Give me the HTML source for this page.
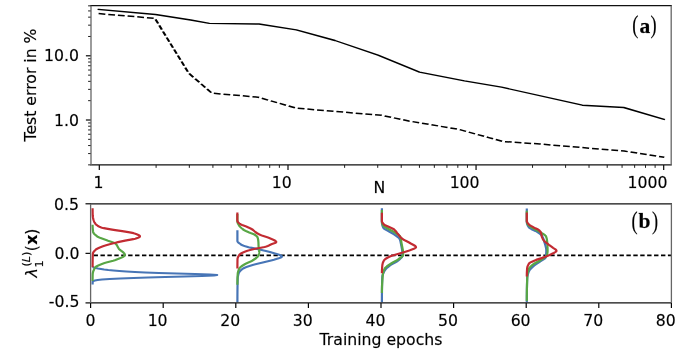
<!DOCTYPE html><html><head><meta charset="utf-8"><style>html,body{margin:0;padding:0;background:#fff;}svg{display:block;} text{stroke:#000;stroke-width:0.35px;stroke-opacity:0.45;}</style></head><body><svg width="698" height="352" viewBox="0 0 698 352">
<rect width="100%" height="100%" fill="#fff"/>
<g font-family="DejaVu Sans, Liberation Sans, sans-serif" fill="#000">
<g transform="scale(1,0.67)" fill="none" stroke="#000" stroke-linejoin="round">
<polyline points="98.60,14.18 155.50,21.64 190.70,29.85 209.40,34.93 259.00,35.82 296.30,44.48 335.00,60.45 378.00,82.24 419.50,107.61 464.40,120.60 501.50,130.15 582.30,157.01 623.70,160.45 664.00,178.21" stroke-width="2.05" stroke-linecap="square"/>
<polyline points="98.60,20.30 154.90,27.31 188.70,109.25 211.80,138.96 258.00,145.07 296.40,161.49 381.70,172.09 408.70,180.60 458.60,192.99 488.70,205.37 503.00,211.19 540.00,214.93 624.20,225.52 664.30,234.78" stroke-width="2.25" stroke-dasharray="6.8 2.94"/>
</g>
<line x1="99.30" y1="164.95" x2="99.30" y2="170.05" stroke="#000" stroke-width="1.17"/>
<line x1="156.10" y1="164.95" x2="156.10" y2="167.85" stroke="#000" stroke-width="0.88"/>
<line x1="189.33" y1="164.95" x2="189.33" y2="167.85" stroke="#000" stroke-width="0.88"/>
<line x1="212.91" y1="164.95" x2="212.91" y2="167.85" stroke="#000" stroke-width="0.88"/>
<line x1="231.20" y1="164.95" x2="231.20" y2="167.85" stroke="#000" stroke-width="0.88"/>
<line x1="246.14" y1="164.95" x2="246.14" y2="167.85" stroke="#000" stroke-width="0.88"/>
<line x1="258.77" y1="164.95" x2="258.77" y2="167.85" stroke="#000" stroke-width="0.88"/>
<line x1="269.71" y1="164.95" x2="269.71" y2="167.85" stroke="#000" stroke-width="0.88"/>
<line x1="279.37" y1="164.95" x2="279.37" y2="167.85" stroke="#000" stroke-width="0.88"/>
<line x1="288.00" y1="164.95" x2="288.00" y2="170.05" stroke="#000" stroke-width="1.17"/>
<line x1="344.61" y1="164.95" x2="344.61" y2="167.85" stroke="#000" stroke-width="0.88"/>
<line x1="377.72" y1="164.95" x2="377.72" y2="167.85" stroke="#000" stroke-width="0.88"/>
<line x1="401.22" y1="164.95" x2="401.22" y2="167.85" stroke="#000" stroke-width="0.88"/>
<line x1="419.44" y1="164.95" x2="419.44" y2="167.85" stroke="#000" stroke-width="0.88"/>
<line x1="434.33" y1="164.95" x2="434.33" y2="167.85" stroke="#000" stroke-width="0.88"/>
<line x1="446.92" y1="164.95" x2="446.92" y2="167.85" stroke="#000" stroke-width="0.88"/>
<line x1="457.83" y1="164.95" x2="457.83" y2="167.85" stroke="#000" stroke-width="0.88"/>
<line x1="467.45" y1="164.95" x2="467.45" y2="167.85" stroke="#000" stroke-width="0.88"/>
<line x1="476.05" y1="164.95" x2="476.05" y2="170.05" stroke="#000" stroke-width="1.17"/>
<line x1="532.54" y1="164.95" x2="532.54" y2="167.85" stroke="#000" stroke-width="0.88"/>
<line x1="565.58" y1="164.95" x2="565.58" y2="167.85" stroke="#000" stroke-width="0.88"/>
<line x1="589.03" y1="164.95" x2="589.03" y2="167.85" stroke="#000" stroke-width="0.88"/>
<line x1="607.21" y1="164.95" x2="607.21" y2="167.85" stroke="#000" stroke-width="0.88"/>
<line x1="622.07" y1="164.95" x2="622.07" y2="167.85" stroke="#000" stroke-width="0.88"/>
<line x1="634.63" y1="164.95" x2="634.63" y2="167.85" stroke="#000" stroke-width="0.88"/>
<line x1="645.51" y1="164.95" x2="645.51" y2="167.85" stroke="#000" stroke-width="0.88"/>
<line x1="655.11" y1="164.95" x2="655.11" y2="167.85" stroke="#000" stroke-width="0.88"/>
<line x1="663.70" y1="164.95" x2="663.70" y2="170.05" stroke="#000" stroke-width="1.17"/>
<line x1="88.10" y1="164.87" x2="91.00" y2="164.87" stroke="#000" stroke-width="0.88"/>
<line x1="88.10" y1="153.57" x2="91.00" y2="153.57" stroke="#000" stroke-width="0.88"/>
<line x1="88.10" y1="145.55" x2="91.00" y2="145.55" stroke="#000" stroke-width="0.88"/>
<line x1="88.10" y1="139.33" x2="91.00" y2="139.33" stroke="#000" stroke-width="0.88"/>
<line x1="88.10" y1="134.24" x2="91.00" y2="134.24" stroke="#000" stroke-width="0.88"/>
<line x1="88.10" y1="129.94" x2="91.00" y2="129.94" stroke="#000" stroke-width="0.88"/>
<line x1="88.10" y1="126.22" x2="91.00" y2="126.22" stroke="#000" stroke-width="0.88"/>
<line x1="88.10" y1="122.94" x2="91.00" y2="122.94" stroke="#000" stroke-width="0.88"/>
<line x1="85.90" y1="120.00" x2="91.00" y2="120.00" stroke="#000" stroke-width="1.17"/>
<line x1="88.10" y1="100.67" x2="91.00" y2="100.67" stroke="#000" stroke-width="0.88"/>
<line x1="88.10" y1="89.37" x2="91.00" y2="89.37" stroke="#000" stroke-width="0.88"/>
<line x1="88.10" y1="81.35" x2="91.00" y2="81.35" stroke="#000" stroke-width="0.88"/>
<line x1="88.10" y1="75.13" x2="91.00" y2="75.13" stroke="#000" stroke-width="0.88"/>
<line x1="88.10" y1="70.04" x2="91.00" y2="70.04" stroke="#000" stroke-width="0.88"/>
<line x1="88.10" y1="65.74" x2="91.00" y2="65.74" stroke="#000" stroke-width="0.88"/>
<line x1="88.10" y1="62.02" x2="91.00" y2="62.02" stroke="#000" stroke-width="0.88"/>
<line x1="88.10" y1="58.74" x2="91.00" y2="58.74" stroke="#000" stroke-width="0.88"/>
<line x1="85.90" y1="55.80" x2="91.00" y2="55.80" stroke="#000" stroke-width="1.17"/>
<line x1="88.10" y1="36.47" x2="91.00" y2="36.47" stroke="#000" stroke-width="0.88"/>
<line x1="88.10" y1="25.17" x2="91.00" y2="25.17" stroke="#000" stroke-width="0.88"/>
<line x1="88.10" y1="17.15" x2="91.00" y2="17.15" stroke="#000" stroke-width="0.88"/>
<line x1="88.10" y1="10.93" x2="91.00" y2="10.93" stroke="#000" stroke-width="0.88"/>
<line x1="88.10" y1="5.84" x2="91.00" y2="5.84" stroke="#000" stroke-width="0.88"/>
<line x1="90.42" y1="5.70" x2="671.79" y2="5.70" stroke="#111" stroke-width="1.17"/>
<line x1="90.42" y1="164.95" x2="671.79" y2="164.95" stroke="#111" stroke-width="1.17"/>
<line x1="91.00" y1="5.70" x2="91.00" y2="164.95" stroke="#666" stroke-width="1.3"/>
<line x1="671.20" y1="5.70" x2="671.20" y2="164.95" stroke="#666" stroke-width="1.3"/>
<text x="103.60" y="188.00" text-anchor="end" font-size="15.7" >1</text>
<text x="291.80" y="188.00" text-anchor="end" font-size="15.7" >10</text>
<text x="479.60" y="188.00" text-anchor="end" font-size="15.7" >100</text>
<text x="667.40" y="188.00" text-anchor="end" font-size="15.7" >1000</text>
<text x="78.90" y="61.40" text-anchor="end" font-size="15.7" >10.0</text>
<text x="78.90" y="125.60" text-anchor="end" font-size="15.7" >1.0</text>
<text x="379.40" y="192.50" text-anchor="middle" font-size="15.7" >N</text>
<text transform="translate(35.7,85.0) rotate(-90)" text-anchor="middle" font-size="15.7">Test error in %</text>
<g font-family="Liberation Serif, serif"><text transform="translate(632.3,33.2) scale(0.72,1)" font-size="25.5">(</text><text x="639.4" y="32.6" font-size="21.5" font-weight="bold">a</text><text transform="translate(650.6,33.2) scale(0.72,1)" font-size="25.5">)</text></g>
<line x1="93.55" y1="255.4" x2="671.40" y2="255.4" stroke="#000" stroke-width="1.8" stroke-dasharray="4.4 2.52"/>
<g fill="none" stroke-width="2.2" stroke-linejoin="round" stroke-linecap="butt">
<polyline points="92.60,267.00 93.71,267.50 95.60,268.00 98.07,268.50 100.95,269.00 104.15,269.50 108.31,270.00 113.46,270.50 119.43,271.00 126.31,271.50 134.96,272.00 145.00,272.50 158.89,273.00 176.89,273.50 195.16,274.00 209.86,274.50 217.17,275.00 213.93,275.50 201.77,276.00 184.31,276.50 165.15,277.00 147.90,277.50 133.54,278.00 120.24,278.50 109.69,279.00 102.00,279.50 97.67,280.00 95.00,280.50 93.43,281.00 92.70,281.50 92.67,282.00 92.64,282.50 92.62,283.00 92.61,283.50 92.60,284.00 92.60,284.50 92.60,284.60" stroke="#4775b6"/>
<polyline points="92.60,224.70 92.60,225.20 92.61,225.70 92.62,226.20 92.64,226.70 92.66,227.20 92.69,227.70 92.72,228.20 92.76,228.70 92.80,229.20 92.85,229.70 92.90,230.20 92.96,230.70 93.02,231.20 93.09,231.70 93.19,232.20 93.41,232.70 93.72,233.20 94.12,233.70 94.58,234.20 95.11,234.70 95.69,235.20 96.30,235.70 96.93,236.20 97.74,236.70 98.77,237.20 99.96,237.70 101.27,238.20 102.65,238.70 104.05,239.20 105.44,239.70 106.75,240.20 108.06,240.70 109.51,241.20 111.01,241.70 112.46,242.20 113.78,242.70 114.86,243.20 115.60,243.70 116.10,244.20 116.51,244.70 116.87,245.20 117.17,245.70 117.44,246.20 117.69,246.70 117.95,247.20 118.21,247.70 118.51,248.20 118.85,248.70 119.26,249.20 119.77,249.70 120.36,250.20 121.00,250.70 121.66,251.20 122.33,251.70 122.98,252.20 123.57,252.70 124.08,253.20 124.49,253.70 124.77,254.20 124.90,254.70 124.81,255.20 124.45,255.70 123.87,256.20 123.08,256.70 122.13,257.20 121.05,257.70 119.87,258.20 118.63,258.70 117.36,259.20 116.10,259.70 114.79,260.20 113.14,260.70 111.25,261.20 109.24,261.70 107.25,262.20 105.42,262.70 103.86,263.20 102.57,263.70 101.29,264.20 100.05,264.70 98.87,265.20 97.79,265.70 96.83,266.20 96.04,266.70 95.43,267.20 95.04,267.70 94.73,268.20 94.45,268.70 94.18,269.20 93.93,269.70 93.71,270.20 93.50,270.70 93.32,271.20 93.15,271.70 93.02,272.20 92.90,272.70 92.81,273.20 92.75,273.70 92.71,274.20 92.69,274.70 92.68,275.20 92.67,275.70 92.65,276.20 92.64,276.70 92.63,277.20 92.63,277.70 92.62,278.20 92.61,278.70 92.61,279.20 92.60,279.70 92.60,280.20 92.60,280.70 92.60,281.00" stroke="#58a645"/>
<polyline points="92.60,208.20 92.60,208.70 92.60,209.20 92.61,209.70 92.61,210.20 92.61,210.70 92.62,211.20 92.63,211.70 92.64,212.20 92.64,212.70 92.65,213.20 92.67,213.70 92.68,214.20 92.69,214.70 92.71,215.20 92.74,215.70 92.79,216.20 92.85,216.70 92.92,217.20 93.01,217.70 93.11,218.20 93.22,218.70 93.33,219.20 93.45,219.70 93.59,220.20 93.76,220.70 93.96,221.20 94.18,221.70 94.44,222.20 94.72,222.70 95.04,223.20 95.39,223.70 95.78,224.20 96.27,224.70 96.88,225.20 97.62,225.70 98.50,226.20 99.51,226.70 100.65,227.20 101.98,227.70 103.93,228.20 106.42,228.70 109.22,229.20 112.13,229.70 115.22,230.20 118.74,230.70 122.23,231.20 125.28,231.70 128.27,232.20 131.12,232.70 133.57,233.20 135.37,233.70 136.64,234.20 137.83,234.70 138.83,235.20 139.57,235.70 139.96,236.20 139.87,236.70 139.18,237.20 138.05,237.70 136.67,238.20 135.19,238.70 133.18,239.20 130.61,239.70 127.81,240.20 125.09,240.70 122.67,241.20 120.26,241.70 117.89,242.20 115.62,242.70 113.49,243.20 111.54,243.70 109.66,244.20 107.84,244.70 106.11,245.20 104.49,245.70 102.99,246.20 101.65,246.70 100.43,247.20 99.25,247.70 98.15,248.20 97.17,248.70 96.34,249.20 95.70,249.70 95.17,250.20 94.66,250.70 94.20,251.20 93.78,251.70 93.43,252.20 93.15,252.70 92.97,253.20 92.89,253.70 92.85,254.20 92.82,254.70 92.79,255.20 92.77,255.70 92.75,256.20 92.73,256.70 92.72,257.20 92.71,257.70 92.70,258.20 92.69,258.70 92.68,259.20 92.67,259.70 92.66,260.20 92.65,260.70 92.65,261.20 92.64,261.70 92.63,262.20 92.63,262.70 92.62,263.20 92.62,263.70 92.61,264.20 92.61,264.70 92.61,265.20 92.60,265.70 92.60,266.20 92.60,266.70 92.60,267.20" stroke="#c22b32"/>
<polyline points="237.40,230.20 237.40,230.70 237.40,231.20 237.40,231.70 237.40,232.20 237.40,232.70 237.40,233.20 237.40,233.70 237.40,234.20 237.40,234.70 237.40,235.20 237.40,235.70 237.40,236.20 237.40,236.70 237.40,237.20 237.40,237.70 237.40,238.20 237.40,238.70 237.40,239.20 237.40,239.70 237.40,240.20 237.40,240.70 237.42,241.20 237.61,241.70 237.98,242.20 238.51,242.70 239.14,243.20 239.86,243.70 240.63,244.20 241.44,244.70 242.48,245.20 243.78,245.70 245.27,246.20 246.91,246.70 248.64,247.20 250.59,247.70 252.93,248.20 255.48,248.70 258.04,249.20 260.40,249.70 262.61,250.20 264.81,250.70 266.94,251.20 268.96,251.70 270.80,252.20 272.45,252.70 274.14,253.20 275.87,253.70 277.55,254.20 279.08,254.70 280.37,255.20 281.35,255.70 281.90,256.20 281.94,256.70 281.33,257.20 280.20,257.70 278.74,258.20 277.11,258.70 275.50,259.20 273.91,259.70 272.07,260.20 270.06,260.70 267.96,261.20 265.85,261.70 263.80,262.20 261.74,262.70 259.60,263.20 257.47,263.70 255.41,264.20 253.52,264.70 251.85,265.20 250.24,265.70 248.68,266.20 247.21,266.70 245.86,267.20 244.69,267.70 243.72,268.20 242.96,268.70 242.26,269.20 241.60,269.70 240.99,270.20 240.44,270.70 239.95,271.20 239.53,271.70 239.18,272.20 238.92,272.70 238.73,273.20 238.58,273.70 238.43,274.20 238.29,274.70 238.17,275.20 238.06,275.70 237.96,276.20 237.87,276.70 237.81,277.20 237.75,277.70 237.72,278.20 237.70,278.70 237.68,279.20 237.67,279.70 237.66,280.20 237.64,280.70 237.63,281.20 237.62,281.70 237.61,282.20 237.60,282.70 237.58,283.20 237.57,283.70 237.56,284.20 237.55,284.70 237.54,285.20 237.54,285.70 237.53,286.20 237.52,286.70 237.51,287.20 237.50,287.70 237.49,288.20 237.49,288.70 237.48,289.20 237.47,289.70 237.47,290.20 237.46,290.70 237.46,291.20 237.45,291.70 237.45,292.20 237.44,292.70 237.44,293.20 237.43,293.70 237.43,294.20 237.43,294.70 237.42,295.20 237.42,295.70 237.42,296.20 237.41,296.70 237.41,297.20 237.41,297.70 237.41,298.20 237.41,298.70 237.40,299.20 237.40,299.70 237.40,300.20 237.40,300.70 237.40,301.20 237.40,301.70 237.40,302.20 237.40,302.30" stroke="#4775b6"/>
<polyline points="237.40,214.00 237.40,214.50 237.40,215.00 237.40,215.50 237.40,216.00 237.40,216.50 237.40,217.00 237.40,217.50 237.40,218.00 237.40,218.50 237.40,219.00 237.40,219.50 237.40,220.00 237.40,220.50 237.40,221.00 237.40,221.50 237.43,222.00 237.54,222.50 237.72,223.00 237.96,223.50 238.22,224.00 238.51,224.50 238.80,225.00 239.11,225.50 239.47,226.00 239.89,226.50 240.34,227.00 240.85,227.50 241.39,228.00 241.98,228.50 242.60,229.00 243.26,229.50 244.00,230.00 244.90,230.50 245.90,231.00 246.98,231.50 248.10,232.00 249.23,232.50 250.52,233.00 251.92,233.50 253.27,234.00 254.37,234.50 255.14,235.00 255.83,235.50 256.45,236.00 256.96,236.50 257.36,237.00 257.60,237.50 257.75,238.00 257.88,238.50 257.99,239.00 258.09,239.50 258.17,240.00 258.24,240.50 258.30,241.00 258.35,241.50 258.39,242.00 258.43,242.50 258.45,243.00 258.47,243.50 258.49,244.00 258.51,244.50 258.52,245.00 258.54,245.50 258.56,246.00 258.59,246.50 258.64,247.00 258.70,247.50 258.79,248.00 258.89,248.50 258.99,249.00 259.09,249.50 259.18,250.00 259.24,250.50 259.29,251.00 259.30,251.50 259.27,252.00 259.21,252.50 259.11,253.00 258.99,253.50 258.84,254.00 258.67,254.50 258.48,255.00 258.27,255.50 258.05,256.00 257.75,256.50 257.32,257.00 256.80,257.50 256.20,258.00 255.52,258.50 254.80,259.00 254.05,259.50 253.27,260.00 252.50,260.50 251.64,261.00 250.64,261.50 249.54,262.00 248.40,262.50 247.26,263.00 246.17,263.50 245.19,264.00 244.34,264.50 243.55,265.00 242.75,265.50 241.99,266.00 241.28,266.50 240.63,267.00 240.08,267.50 239.65,268.00 239.35,268.50 239.11,269.00 238.88,269.50 238.68,270.00 238.49,270.50 238.31,271.00 238.16,271.50 238.02,272.00 237.91,272.50 237.82,273.00 237.75,273.50 237.71,274.00 237.68,274.50 237.65,275.00 237.63,275.50 237.60,276.00 237.58,276.50 237.56,277.00 237.54,277.50 237.52,278.00 237.50,278.50 237.49,279.00 237.47,279.50 237.46,280.00 237.45,280.50 237.44,281.00 237.43,281.50 237.42,282.00 237.41,282.50 237.41,283.00 237.40,283.50 237.40,284.00 237.40,284.50 237.40,284.70" stroke="#58a645"/>
<polyline points="237.40,212.50 237.38,213.00 237.37,213.50 237.35,214.00 237.34,214.50 237.33,215.00 237.32,215.50 237.32,216.00 237.31,216.50 237.31,217.00 237.31,217.50 237.30,218.00 237.30,218.50 237.30,219.00 237.30,219.50 237.30,220.00 237.30,220.50 237.38,221.00 237.61,221.50 237.97,222.00 238.42,222.50 238.94,223.00 239.52,223.50 240.13,224.00 241.01,224.50 242.19,225.00 243.54,225.50 244.92,226.00 246.22,226.50 247.35,227.00 248.44,227.50 249.52,228.00 250.55,228.50 251.50,229.00 252.35,229.50 253.06,230.00 253.67,230.50 254.22,231.00 254.77,231.50 255.36,232.00 256.05,232.50 256.82,233.00 257.66,233.50 258.57,234.00 259.55,234.50 260.62,235.00 261.91,235.50 263.39,236.00 264.96,236.50 266.54,237.00 268.01,237.50 269.28,238.00 270.39,238.50 271.54,239.00 272.69,239.50 273.77,240.00 274.73,240.50 275.51,241.00 276.05,241.50 276.29,242.00 275.98,242.50 274.91,243.00 273.45,243.50 271.99,244.00 270.85,244.50 269.85,245.00 268.85,245.50 267.74,246.00 266.40,246.50 264.58,247.00 262.10,247.50 259.31,248.00 256.58,248.50 254.28,249.00 252.19,249.50 250.18,250.00 248.33,250.50 246.70,251.00 245.35,251.50 244.14,252.00 243.00,252.50 241.95,253.00 241.02,253.50 240.24,254.00 239.65,254.50 239.26,255.00 238.93,255.50 238.62,256.00 238.34,256.50 238.09,257.00 237.88,257.50 237.71,258.00 237.59,258.50 237.52,259.00 237.50,259.50 237.48,260.00 237.47,260.50 237.46,261.00 237.45,261.50 237.45,262.00 237.44,262.50 237.43,263.00 237.43,263.50 237.42,264.00 237.42,264.50 237.41,265.00 237.41,265.50 237.41,266.00 237.40,266.50 237.40,267.00 237.40,267.50 237.40,268.00 237.40,268.40" stroke="#c22b32"/>
<polyline points="381.90,208.30 381.90,208.80 381.90,209.30 381.90,209.80 381.90,210.30 381.90,210.80 381.90,211.30 381.90,211.80 381.90,212.30 381.90,212.80 381.90,213.30 381.90,213.80 381.90,214.30 381.90,214.80 381.90,215.30 381.90,215.80 381.90,216.30 381.90,216.80 381.90,217.30 381.90,217.80 381.90,218.30 381.90,218.80 381.90,219.30 381.90,219.80 381.90,220.30 381.90,220.80 381.90,221.30 381.90,221.80 381.90,222.30 381.93,222.80 381.98,223.30 382.06,223.80 382.15,224.30 382.27,224.80 382.40,225.30 382.56,225.80 382.73,226.30 382.92,226.80 383.12,227.30 383.35,227.80 383.76,228.30 384.40,228.80 385.19,229.30 386.08,229.80 387.01,230.30 387.90,230.80 388.72,231.30 389.57,231.80 390.46,232.30 391.37,232.80 392.28,233.30 393.16,233.80 394.00,234.30 394.78,234.80 395.47,235.30 396.17,235.80 396.86,236.30 397.53,236.80 398.15,237.30 398.71,237.80 399.18,238.30 399.54,238.80 399.78,239.30 399.98,239.80 400.15,240.30 400.29,240.80 400.42,241.30 400.54,241.80 400.64,242.30 400.74,242.80 400.84,243.30 400.94,243.80 401.04,244.30 401.14,244.80 401.24,245.30 401.34,245.80 401.44,246.30 401.54,246.80 401.64,247.30 401.74,247.80 401.83,248.30 401.92,248.80 402.01,249.30 402.10,249.80 402.17,250.30 402.25,250.80 402.32,251.30 402.38,251.80 402.43,252.30 402.48,252.80 402.52,253.30 402.56,253.80 402.58,254.30 402.59,254.80 402.60,255.30 402.54,255.80 402.36,256.30 402.07,256.80 401.70,257.30 401.25,257.80 400.74,258.30 400.18,258.80 399.59,259.30 398.97,259.80 398.35,260.30 397.74,260.80 397.11,261.30 396.36,261.80 395.50,262.30 394.57,262.80 393.60,263.30 392.63,263.80 391.69,264.30 390.83,264.80 390.07,265.30 389.42,265.80 388.80,266.30 388.20,266.80 387.61,267.30 387.06,267.80 386.54,268.30 386.05,268.80 385.61,269.30 385.22,269.80 384.88,270.30 384.59,270.80 384.31,271.30 384.05,271.80 383.79,272.30 383.54,272.80 383.30,273.30 383.09,273.80 382.89,274.30 382.72,274.80 382.57,275.30 382.45,275.80 382.36,276.30 382.31,276.80 382.29,277.30 382.27,277.80 382.25,278.30 382.24,278.80 382.22,279.30 382.20,279.80 382.19,280.30 382.17,280.80 382.16,281.30 382.15,281.80 382.13,282.30 382.12,282.80 382.11,283.30 382.09,283.80 382.08,284.30 382.07,284.80 382.06,285.30 382.05,285.80 382.04,286.30 382.03,286.80 382.02,287.30 382.01,287.80 382.00,288.30 382.00,288.80 381.99,289.30 381.98,289.80 381.97,290.30 381.97,290.80 381.96,291.30 381.96,291.80 381.95,292.30 381.95,292.80 381.94,293.30 381.94,293.80 381.93,294.30 381.93,294.80 381.92,295.30 381.92,295.80 381.92,296.30 381.91,296.80 381.91,297.30 381.91,297.80 381.91,298.30 381.91,298.80 381.90,299.30 381.90,299.80 381.90,300.30 381.90,300.80 381.90,301.30 381.90,301.80 381.90,302.30" stroke="#4775b6"/>
<polyline points="381.90,210.00 381.90,210.50 381.90,211.00 381.90,211.50 381.90,212.00 381.90,212.50 381.90,213.00 381.90,213.50 381.90,214.00 381.90,214.50 381.90,215.00 381.90,215.50 381.90,216.00 381.90,216.50 381.90,217.00 381.90,217.50 381.90,218.00 381.90,218.50 381.90,219.00 381.90,219.50 381.90,220.00 381.90,220.50 381.90,221.00 381.92,221.50 381.96,222.00 382.04,222.50 382.14,223.00 382.26,223.50 382.40,224.00 382.56,224.50 382.74,225.00 383.08,225.50 383.62,226.00 384.31,226.50 385.11,227.00 385.98,227.50 386.87,228.00 387.74,228.50 388.56,229.00 389.39,229.50 390.29,230.00 391.22,230.50 392.16,231.00 393.11,231.50 394.03,232.00 394.90,232.50 395.71,233.00 396.44,233.50 397.17,234.00 397.90,234.50 398.61,235.00 399.25,235.50 399.78,236.00 400.16,236.50 400.37,237.00 400.52,237.50 400.66,238.00 400.77,238.50 400.87,239.00 400.96,239.50 401.03,240.00 401.11,240.50 401.18,241.00 401.25,241.50 401.32,242.00 401.40,242.50 401.49,243.00 401.58,243.50 401.67,244.00 401.77,244.50 401.87,245.00 401.97,245.50 402.07,246.00 402.17,246.50 402.26,247.00 402.36,247.50 402.46,248.00 402.55,248.50 402.64,249.00 402.72,249.50 402.80,250.00 402.88,250.50 402.95,251.00 403.01,251.50 403.06,252.00 403.11,252.50 403.15,253.00 403.17,253.50 403.19,254.00 403.20,254.50 403.14,255.00 402.91,255.50 402.54,256.00 402.06,256.50 401.48,257.00 400.84,257.50 400.17,258.00 399.49,258.50 398.83,259.00 398.16,259.50 397.38,260.00 396.52,260.50 395.61,261.00 394.67,261.50 393.72,262.00 392.80,262.50 391.94,263.00 391.15,263.50 390.41,264.00 389.67,264.50 388.91,265.00 388.17,265.50 387.45,266.00 386.78,266.50 386.16,267.00 385.62,267.50 385.16,268.00 384.81,268.50 384.56,269.00 384.33,269.50 384.11,270.00 383.91,270.50 383.73,271.00 383.56,271.50 383.41,272.00 383.27,272.50 383.14,273.00 383.04,273.50 382.95,274.00 382.87,274.50 382.81,275.00 382.76,275.50 382.71,276.00 382.67,276.50 382.62,277.00 382.58,277.50 382.54,278.00 382.50,278.50 382.46,279.00 382.42,279.50 382.38,280.00 382.35,280.50 382.31,281.00 382.28,281.50 382.25,282.00 382.22,282.50 382.19,283.00 382.16,283.50 382.14,284.00 382.11,284.50 382.09,285.00 382.06,285.50 382.04,286.00 382.02,286.50 382.01,287.00 381.99,287.50 381.97,288.00 381.96,288.50 381.95,289.00 381.94,289.50 381.93,290.00 381.92,290.50 381.91,291.00 381.91,291.50 381.90,292.00 381.90,292.50 381.90,293.00" stroke="#58a645"/>
<polyline points="381.90,212.70 381.90,213.20 381.90,213.70 381.90,214.20 381.90,214.70 381.90,215.20 381.90,215.70 381.90,216.20 381.90,216.70 381.90,217.20 381.90,217.70 381.90,218.20 381.90,218.70 381.90,219.20 381.90,219.70 381.90,220.20 381.90,220.70 381.92,221.20 382.04,221.70 382.24,222.20 382.53,222.70 382.88,223.20 383.27,223.70 383.71,224.20 384.30,224.70 385.24,225.20 386.37,225.70 387.54,226.20 388.60,226.70 389.68,227.20 390.80,227.70 391.90,228.20 392.90,228.70 393.73,229.20 394.36,229.70 394.89,230.20 395.36,230.70 395.78,231.20 396.16,231.70 396.54,232.20 396.92,232.70 397.33,233.20 397.76,233.70 398.17,234.20 398.57,234.70 398.96,235.20 399.35,235.70 399.76,236.20 400.18,236.70 400.63,237.20 401.12,237.70 401.65,238.20 402.25,238.70 402.97,239.20 403.80,239.70 404.71,240.20 405.68,240.70 406.68,241.20 407.67,241.70 408.63,242.20 409.54,242.70 410.36,243.20 411.22,243.70 412.16,244.20 413.10,244.70 413.99,245.20 414.79,245.70 415.42,246.20 415.85,246.70 416.00,247.20 415.72,247.70 414.96,248.20 413.87,248.70 412.58,249.20 411.23,249.70 409.95,250.20 408.58,250.70 407.04,251.20 405.40,251.70 403.69,252.20 401.98,252.70 400.32,253.20 398.68,253.70 396.92,254.20 395.15,254.70 393.42,255.20 391.84,255.70 390.48,256.20 389.39,256.70 388.40,257.20 387.46,257.70 386.59,258.20 385.80,258.70 385.12,259.20 384.56,259.70 384.13,260.20 383.83,260.70 383.56,261.20 383.32,261.70 383.11,262.20 382.92,262.70 382.75,263.20 382.62,263.70 382.51,264.20 382.42,264.70 382.37,265.20 382.31,265.70 382.26,266.20 382.22,266.70 382.17,267.20 382.13,267.70 382.09,268.20 382.06,268.70 382.03,269.20 382.00,269.70 381.97,270.20 381.95,270.70 381.93,271.20 381.92,271.70 381.91,272.20 381.90,272.70 381.90,273.20" stroke="#c22b32"/>
<polyline points="526.80,208.40 526.80,208.90 526.80,209.40 526.80,209.90 526.80,210.40 526.80,210.90 526.80,211.40 526.80,211.90 526.80,212.40 526.80,212.90 526.80,213.40 526.80,213.90 526.80,214.40 526.80,214.90 526.80,215.40 526.80,215.90 526.80,216.40 526.80,216.90 526.80,217.40 526.80,217.90 526.80,218.40 526.80,218.90 526.80,219.40 526.80,219.90 526.80,220.40 526.80,220.90 526.80,221.40 526.80,221.90 526.82,222.40 526.88,222.90 526.98,223.40 527.12,223.90 527.30,224.40 527.51,224.90 527.75,225.40 528.02,225.90 528.30,226.40 528.61,226.90 528.95,227.40 529.51,227.90 530.27,228.40 531.19,228.90 532.22,229.40 533.30,229.90 534.38,230.40 535.41,230.90 536.32,231.40 537.10,231.90 537.86,232.40 538.61,232.90 539.35,233.40 540.05,233.90 540.68,234.40 541.24,234.90 541.69,235.40 542.02,235.90 542.31,236.40 542.58,236.90 542.82,237.40 543.03,237.90 543.23,238.40 543.42,238.90 543.59,239.40 543.75,239.90 543.90,240.40 544.05,240.90 544.20,241.40 544.35,241.90 544.50,242.40 544.66,242.90 544.81,243.40 544.96,243.90 545.11,244.40 545.26,244.90 545.41,245.40 545.54,245.90 545.67,246.40 545.79,246.90 545.91,247.40 546.01,247.90 546.09,248.40 546.17,248.90 546.23,249.40 546.27,249.90 546.29,250.40 546.30,250.90 546.29,251.40 546.28,251.90 546.26,252.40 546.23,252.90 546.20,253.40 546.16,253.90 546.11,254.40 546.05,254.90 545.99,255.40 545.92,255.90 545.84,256.40 545.75,256.90 545.64,257.40 545.36,257.90 544.88,258.40 544.27,258.90 543.54,259.40 542.75,259.90 541.92,260.40 541.10,260.90 540.33,261.40 539.62,261.90 538.89,262.40 538.13,262.90 537.34,263.40 536.56,263.90 535.78,264.40 535.04,264.90 534.35,265.40 533.73,265.90 533.17,266.40 532.62,266.90 532.08,267.40 531.55,267.90 531.05,268.40 530.58,268.90 530.15,269.40 529.76,269.90 529.42,270.40 529.14,270.90 528.92,271.40 528.71,271.90 528.52,272.40 528.33,272.90 528.15,273.40 527.99,273.90 527.83,274.40 527.69,274.90 527.57,275.40 527.46,275.90 527.37,276.40 527.29,276.90 527.24,277.40 527.20,277.90 527.19,278.40 527.17,278.90 527.15,279.40 527.13,279.90 527.12,280.40 527.10,280.90 527.09,281.40 527.07,281.90 527.06,282.40 527.04,282.90 527.03,283.40 527.02,283.90 527.00,284.40 526.99,284.90 526.98,285.40 526.97,285.90 526.96,286.40 526.95,286.90 526.94,287.40 526.93,287.90 526.92,288.40 526.91,288.90 526.90,289.40 526.89,289.90 526.88,290.40 526.88,290.90 526.87,291.40 526.86,291.90 526.86,292.40 526.85,292.90 526.85,293.40 526.84,293.90 526.84,294.40 526.83,294.90 526.83,295.40 526.82,295.90 526.82,296.40 526.82,296.90 526.81,297.40 526.81,297.90 526.81,298.40 526.81,298.90 526.80,299.40 526.80,299.90 526.80,300.40 526.80,300.90 526.80,301.40 526.80,301.90 526.80,302.30" stroke="#4775b6"/>
<polyline points="526.80,210.70 526.80,211.20 526.80,211.70 526.80,212.20 526.80,212.70 526.80,213.20 526.80,213.70 526.80,214.20 526.80,214.70 526.80,215.20 526.80,215.70 526.80,216.20 526.80,216.70 526.80,217.20 526.80,217.70 526.80,218.20 526.80,218.70 526.80,219.20 526.80,219.70 526.80,220.20 526.80,220.70 526.80,221.20 526.85,221.70 526.95,222.20 527.08,222.70 527.25,223.20 527.44,223.70 527.66,224.20 527.95,224.70 528.43,225.20 529.07,225.70 529.83,226.20 530.66,226.70 531.53,227.20 532.41,227.70 533.24,228.20 534.05,228.70 534.91,229.20 535.81,229.70 536.73,230.20 537.67,230.70 538.59,231.20 539.49,231.70 540.35,232.20 541.15,232.70 541.92,233.20 542.74,233.70 543.54,234.20 544.31,234.70 544.98,235.20 545.52,235.70 545.88,236.20 546.10,236.70 546.30,237.20 546.47,237.70 546.62,238.20 546.75,238.70 546.85,239.20 546.94,239.70 547.00,240.20 547.05,240.70 547.10,241.20 547.15,241.70 547.19,242.20 547.24,242.70 547.28,243.20 547.32,243.70 547.35,244.20 547.39,244.70 547.42,245.20 547.45,245.70 547.48,246.20 547.50,246.70 547.52,247.20 547.54,247.70 547.56,248.20 547.57,248.70 547.58,249.20 547.59,249.70 547.60,250.20 547.60,250.70 547.59,251.20 547.57,251.70 547.52,252.20 547.46,252.70 547.38,253.20 547.29,253.70 547.18,254.20 547.06,254.70 546.93,255.20 546.72,255.70 546.34,256.20 545.80,256.70 545.15,257.20 544.40,257.70 543.60,258.20 542.78,258.70 541.97,259.20 541.20,259.70 540.42,260.20 539.55,260.70 538.64,261.20 537.70,261.70 536.76,262.20 535.85,262.70 534.98,263.20 534.19,263.70 533.50,264.20 532.87,264.70 532.24,265.20 531.63,265.70 531.05,266.20 530.51,266.70 530.02,267.20 529.60,267.70 529.26,268.20 529.00,268.70 528.80,269.20 528.61,269.70 528.43,270.20 528.26,270.70 528.10,271.20 527.96,271.70 527.83,272.20 527.72,272.70 527.62,273.20 527.54,273.70 527.47,274.20 527.43,274.70 527.39,275.20 527.37,275.70 527.35,276.20 527.32,276.70 527.30,277.20 527.28,277.70 527.25,278.20 527.23,278.70 527.21,279.20 527.19,279.70 527.17,280.20 527.15,280.70 527.13,281.20 527.12,281.70 527.10,282.20 527.08,282.70 527.07,283.20 527.05,283.70 527.03,284.20 527.02,284.70 527.01,285.20 526.99,285.70 526.98,286.20 526.97,286.70 526.95,287.20 526.94,287.70 526.93,288.20 526.92,288.70 526.91,289.20 526.90,289.70 526.89,290.20 526.88,290.70 526.88,291.20 526.87,291.70 526.86,292.20 526.85,292.70 526.85,293.20 526.84,293.70 526.84,294.20 526.83,294.70 526.83,295.20 526.82,295.70 526.82,296.20 526.81,296.70 526.81,297.20 526.81,297.70 526.81,298.20 526.80,298.70 526.80,299.20 526.80,299.70 526.80,300.20 526.80,300.70 526.80,301.00" stroke="#58a645"/>
<polyline points="526.80,212.40 526.80,212.90 526.80,213.40 526.80,213.90 526.80,214.40 526.80,214.90 526.80,215.40 526.80,215.90 526.80,216.40 526.80,216.90 526.80,217.40 526.80,217.90 526.80,218.40 526.80,218.90 526.80,219.40 526.80,219.90 526.80,220.40 526.80,220.90 526.86,221.40 527.04,221.90 527.30,222.40 527.64,222.90 528.03,223.40 528.45,223.90 528.89,224.40 529.46,224.90 530.19,225.40 531.02,225.90 531.93,226.40 532.85,226.90 533.78,227.40 534.85,227.90 536.00,228.40 537.06,228.90 537.90,229.40 538.57,229.90 539.19,230.40 539.75,230.90 540.22,231.40 540.59,231.90 540.84,232.40 541.02,232.90 541.16,233.40 541.27,233.90 541.37,234.40 541.46,234.90 541.55,235.40 541.65,235.90 541.78,236.40 541.93,236.90 542.12,237.40 542.32,237.90 542.55,238.40 542.81,238.90 543.09,239.40 543.40,239.90 543.74,240.40 544.17,240.90 544.66,241.40 545.22,241.90 545.82,242.40 546.45,242.90 547.09,243.40 547.73,243.90 548.35,244.40 549.00,244.90 549.69,245.40 550.39,245.90 551.09,246.40 551.78,246.90 552.44,247.40 553.11,247.90 553.86,248.40 554.65,248.90 555.39,249.40 556.00,249.90 556.39,250.40 556.49,250.90 556.20,251.40 555.57,251.90 554.70,252.40 553.69,252.90 552.62,253.40 551.59,253.90 550.62,254.40 549.58,254.90 548.47,255.40 547.31,255.90 546.09,256.40 544.84,256.90 543.55,257.40 542.23,257.90 540.77,258.40 539.18,258.90 537.58,259.40 536.08,259.90 534.80,260.40 533.66,260.90 532.52,261.40 531.45,261.90 530.50,262.40 529.72,262.90 529.15,263.40 528.81,263.90 528.51,264.40 528.24,264.90 528.00,265.40 527.78,265.90 527.59,266.40 527.43,266.90 527.30,267.40 527.20,267.90 527.13,268.40 527.09,268.90 527.05,269.40 527.02,269.90 526.99,270.40 526.96,270.90 526.93,271.40 526.91,271.90 526.88,272.40 526.86,272.90 526.85,273.40 526.83,273.90 526.82,274.40 526.81,274.90 526.81,275.40 526.80,275.90 526.80,276.40" stroke="#c22b32"/>
</g>
<line x1="90.60" y1="302.90" x2="90.60" y2="308.00" stroke="#000" stroke-width="1.17"/>
<line x1="163.20" y1="302.90" x2="163.20" y2="308.00" stroke="#000" stroke-width="1.17"/>
<line x1="235.80" y1="302.90" x2="235.80" y2="308.00" stroke="#000" stroke-width="1.17"/>
<line x1="308.40" y1="302.90" x2="308.40" y2="308.00" stroke="#000" stroke-width="1.17"/>
<line x1="381.00" y1="302.90" x2="381.00" y2="308.00" stroke="#000" stroke-width="1.17"/>
<line x1="453.60" y1="302.90" x2="453.60" y2="308.00" stroke="#000" stroke-width="1.17"/>
<line x1="526.20" y1="302.90" x2="526.20" y2="308.00" stroke="#000" stroke-width="1.17"/>
<line x1="598.80" y1="302.90" x2="598.80" y2="308.00" stroke="#000" stroke-width="1.17"/>
<line x1="671.40" y1="302.90" x2="671.40" y2="308.00" stroke="#000" stroke-width="1.17"/>
<line x1="85.50" y1="203.80" x2="90.60" y2="203.80" stroke="#000" stroke-width="1.17"/>
<line x1="85.50" y1="253.35" x2="90.60" y2="253.35" stroke="#000" stroke-width="1.17"/>
<line x1="85.50" y1="302.90" x2="90.60" y2="302.90" stroke="#000" stroke-width="1.17"/>
<line x1="90.02" y1="203.80" x2="671.99" y2="203.80" stroke="#111" stroke-width="1.17"/>
<line x1="90.02" y1="302.90" x2="671.99" y2="302.90" stroke="#111" stroke-width="1.17"/>
<line x1="90.60" y1="203.80" x2="90.60" y2="302.90" stroke="#666" stroke-width="1.3"/>
<line x1="671.40" y1="203.80" x2="671.40" y2="302.90" stroke="#666" stroke-width="1.3"/>
<text x="79.00" y="209.70" text-anchor="end" font-size="15.7" >0.5</text>
<text x="79.40" y="258.80" text-anchor="end" font-size="15.7" >0.0</text>
<text x="79.40" y="307.00" text-anchor="end" font-size="15.7" >-0.5</text>
<text x="90.60" y="326.00" text-anchor="middle" font-size="15.7" >0</text>
<text x="167.60" y="326.00" text-anchor="end" font-size="15.7" >10</text>
<text x="240.20" y="326.00" text-anchor="end" font-size="15.7" >20</text>
<text x="312.80" y="326.00" text-anchor="end" font-size="15.7" >30</text>
<text x="385.40" y="326.00" text-anchor="end" font-size="15.7" >40</text>
<text x="458.00" y="326.00" text-anchor="end" font-size="15.7" >50</text>
<text x="530.60" y="326.00" text-anchor="end" font-size="15.7" >60</text>
<text x="603.20" y="326.00" text-anchor="end" font-size="15.7" >70</text>
<text x="675.80" y="326.00" text-anchor="end" font-size="15.7" >80</text>
<text x="381.00" y="344.70" text-anchor="middle" font-size="15.7" >Training epochs</text>
<g transform="translate(36.5,277.3) rotate(-90)" font-size="15.7"><text x="-0.3" y="0" font-style="italic">λ</text><text x="9.8" y="6.1" font-size="11.3">1</text><text x="10.7" y="-6.6" font-size="11.3">(<tspan font-style="italic">L</tspan>)</text><text x="26.0" y="0">(</text><text x="32.6" y="0" font-weight="bold">x</text><text x="42.6" y="0">)</text></g>
<g font-family="Liberation Serif, serif"><text transform="translate(631.5,229.0) scale(0.72,1)" font-size="25.5">(</text><text x="638.6" y="228.2" font-size="21.5" font-weight="bold">b</text><text transform="translate(652.0,229.0) scale(0.72,1)" font-size="25.5">)</text></g>
</g></svg></body></html>
